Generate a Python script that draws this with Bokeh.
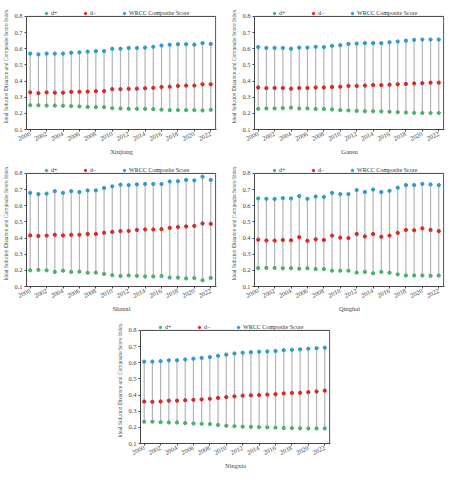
import math
from bokeh.plotting import figure
from bokeh.models import (Legend, LegendItem, FixedTicker, NumeralTickFormatter, Range1d, GridBox)
from bokeh.embed import file_html
from bokeh.resources import INLINE

years = list(range(2000, 2023))

# Xinjiang
xj_dplus = [0.250, 0.250, 0.248, 0.248, 0.247, 0.245, 0.243, 0.240, 0.238, 0.238, 0.232, 0.230,
            0.228, 0.228, 0.228, 0.226, 0.223, 0.220, 0.220, 0.220, 0.220, 0.218, 0.222]
xj_dminus = [0.330, 0.325, 0.330, 0.328, 0.328, 0.333, 0.333, 0.335, 0.337, 0.337, 0.350, 0.350,
             0.352, 0.353, 0.355, 0.358, 0.363, 0.365, 0.370, 0.372, 0.372, 0.380, 0.380]
xj_wrcc = [0.570, 0.565, 0.570, 0.570, 0.570, 0.575, 0.578, 0.582, 0.585, 0.585, 0.600, 0.600,
           0.605, 0.605, 0.607, 0.612, 0.620, 0.625, 0.628, 0.628, 0.625, 0.635, 0.630]

# Gansu
gs_dplus = [0.228, 0.230, 0.230, 0.232, 0.235, 0.230, 0.230, 0.227, 0.227, 0.224, 0.220, 0.218,
            0.215, 0.213, 0.213, 0.212, 0.210, 0.207, 0.205, 0.203, 0.202, 0.202, 0.202]
gs_dminus = [0.360, 0.356, 0.357, 0.357, 0.353, 0.357, 0.357, 0.360, 0.360, 0.363, 0.365, 0.370,
             0.370, 0.372, 0.375, 0.375, 0.377, 0.380, 0.382, 0.385, 0.387, 0.390, 0.390]
gs_wrcc = [0.610, 0.605, 0.605, 0.605, 0.600, 0.607, 0.607, 0.612, 0.610, 0.618, 0.622, 0.630,
           0.632, 0.635, 0.635, 0.635, 0.640, 0.645, 0.650, 0.655, 0.657, 0.657, 0.657]

# Shanxi
sx_dplus = [0.200, 0.203, 0.200, 0.190, 0.198, 0.190, 0.192, 0.185, 0.186, 0.178, 0.170, 0.165,
            0.168, 0.166, 0.162, 0.162, 0.165, 0.155, 0.155, 0.150, 0.152, 0.138, 0.153]
sx_dminus = [0.416, 0.413, 0.415, 0.420, 0.416, 0.420, 0.420, 0.425, 0.425, 0.433, 0.438, 0.443,
             0.444, 0.450, 0.453, 0.453, 0.455, 0.463, 0.468, 0.472, 0.475, 0.490, 0.488]
sx_wrcc = [0.680, 0.672, 0.675, 0.690, 0.680, 0.690, 0.685, 0.695, 0.695, 0.710, 0.720, 0.730,
           0.728, 0.732, 0.735, 0.735, 0.735, 0.750, 0.752, 0.760, 0.757, 0.780, 0.760]

# Qinghai
qh_dplus = [0.214, 0.215, 0.215, 0.213, 0.213, 0.210, 0.213, 0.208, 0.208, 0.198, 0.198, 0.198,
            0.186, 0.190, 0.182, 0.190, 0.185, 0.175, 0.168, 0.168, 0.168, 0.166, 0.168]
qh_dminus = [0.390, 0.385, 0.384, 0.388, 0.386, 0.405, 0.383, 0.392, 0.388, 0.415, 0.402, 0.400,
             0.425, 0.410, 0.425, 0.408, 0.415, 0.432, 0.450, 0.448, 0.460, 0.450, 0.443]
qh_wrcc = [0.645, 0.643, 0.642, 0.647, 0.645, 0.660, 0.643, 0.657, 0.655, 0.680, 0.672, 0.672,
           0.697, 0.685, 0.700, 0.685, 0.692, 0.712, 0.728, 0.728, 0.735, 0.732, 0.728]

# Ningxia
nx_dplus = [0.235, 0.235, 0.232, 0.230, 0.230, 0.226, 0.224, 0.222, 0.220, 0.215, 0.210, 0.207,
            0.204, 0.203, 0.201, 0.200, 0.198, 0.196, 0.195, 0.194, 0.193, 0.193, 0.193]
nx_dminus = [0.360, 0.358, 0.360, 0.365, 0.365, 0.368, 0.370, 0.373, 0.377, 0.382, 0.387, 0.392,
             0.396, 0.398, 0.400, 0.403, 0.405, 0.410, 0.413, 0.414, 0.418, 0.422, 0.427]
nx_wrcc = [0.607, 0.607, 0.610, 0.615, 0.615, 0.620, 0.625, 0.630, 0.635, 0.643, 0.650, 0.657,
           0.662, 0.665, 0.668, 0.670, 0.673, 0.678, 0.680, 0.683, 0.687, 0.690, 0.693]

y_ticks = [0.1, 0.2, 0.3, 0.4, 0.5, 0.6, 0.7, 0.8]

GREEN = "#4caf6e"
RED = "#d42a2a"
BLUE = "#2f9cc4"
FONT = "Liberation Serif"
X0, X1 = 1999.6, 2022.6
Y0, Y1 = 0.1, 0.8


def make_panel(name, dplus, dminus, wrcc):
    # the y range runs a bit past 0.8 so the legend fits above the boxed area
    p = figure(width=228, height=157, output_backend="svg", toolbar_location=None,
               x_range=Range1d(X0 - 0.05, X1 + 0.1), y_range=Range1d(0.1, 0.88),
               min_border_left=22, min_border_right=12, min_border_top=3, min_border_bottom=4)
    p.grid.visible = False
    p.outline_line_color = None
    # box around the 0.1-0.8 plotting area
    p.line(x=[X0, X1, X1], y=[Y1, Y1, Y0], line_color="#444444", line_width=1)

    p.segment(x0=years, y0=dplus, x1=years, y1=wrcc, line_color="#b5b5b5", line_width=1.2)
    r1 = p.scatter(years, dplus, size=3.3, color=GREEN)
    r2 = p.scatter(years, dminus, size=3.3, color=RED)
    r3 = p.scatter(years, wrcc, size=3.3, color=BLUE)

    legend = Legend(items=[LegendItem(label="d+", renderers=[r1]),
                           LegendItem(label="d\u2212", renderers=[r2]),
                           LegendItem(label="WRCC Composite Score", renderers=[r3])],
                    orientation="horizontal", location=(17, 113),
                    label_text_font=FONT, label_text_font_size="6px", label_text_color="#333333",
                    glyph_width=6, glyph_height=6, label_height=6, label_standoff=2,
                    spacing=11, padding=1, margin=0, border_line_color=None,
                    background_fill_alpha=0)
    p.add_layout(legend)

    p.xaxis.ticker = FixedTicker(ticks=list(range(2000, 2023, 2)))
    p.xaxis.major_label_orientation = math.pi / 7
    p.yaxis.ticker = FixedTicker(ticks=y_ticks)
    p.yaxis.bounds = (Y0, Y1)
    p.yaxis.formatter = NumeralTickFormatter(format="0.0")
    p.xaxis.axis_label = name
    p.yaxis.axis_label = "Ideal Solution Distance and Composite Score Index"
    for ax in (p.xaxis, p.yaxis):
        ax.major_label_text_font = FONT
        ax.major_label_text_font_size = "6.5px"
        ax.major_label_text_color = "#444444"
        ax.axis_label_text_font = FONT
        ax.axis_label_text_font_style = "normal"
        ax.axis_label_text_color = "#444444"
        ax.axis_line_color = "#444444"
        ax.major_tick_line_color = "#444444"
        ax.minor_tick_line_color = None
        ax.major_tick_in = 0
        ax.major_tick_out = 2
        ax.major_label_standoff = 2
    p.xaxis.axis_label_text_font_size = "6.5px"
    p.yaxis.axis_label_text_font_size = "5.5px"
    p.xaxis.axis_label_standoff = 2
    p.yaxis.axis_label_standoff = 2
    return p


p1 = make_panel("Xinjiang", xj_dplus, xj_dminus, xj_wrcc)
p2 = make_panel("Gansu", gs_dplus, gs_dminus, gs_wrcc)
p3 = make_panel("Shanxi", sx_dplus, sx_dminus, sx_wrcc)
p4 = make_panel("Qinghai", qh_dplus, qh_dminus, qh_wrcc)
p5 = make_panel("Ningxia", nx_dplus, nx_dminus, nx_wrcc)

p = GridBox(children=[(p1, 0, 0, 1, 2), (p2, 0, 2, 1, 2),
                      (p3, 1, 0, 1, 2), (p4, 1, 2, 1, 2),
                      (p5, 2, 1, 1, 2)],
            width=456, height=471)

open("out.html", "w").write(file_html(p, INLINE))
